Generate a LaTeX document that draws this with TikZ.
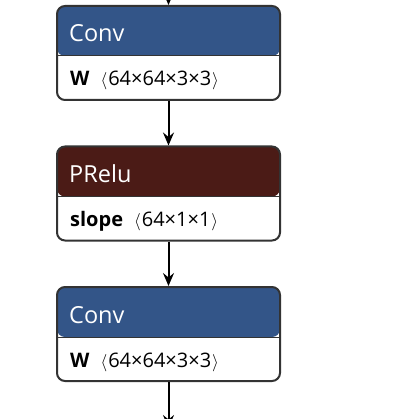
\documentclass[tikz,border=0pt]{standalone}
\usepackage{fontspec}
\setmainfont{Open Sans}
\usetikzlibrary{arrows.meta, positioning}

\definecolor{convblue}{RGB}{51,85,136}
\definecolor{actred}{RGB}{75,27,22}
\definecolor{boxline}{RGB}{51,51,51}

\newcommand{\shp}[1]{{\fontsize{16}{16}\selectfont$\langle$}\kern1pt#1\kern1pt{\fontsize{16}{16}\selectfont$\rangle$}}

\tikzset{
  layer/.style={draw=boxline, line width=2pt, rounded corners=8pt, fill=white,
    minimum width=223pt, minimum height=94pt, inner sep=0pt,
    path picture={
      \fill[#1] (path picture bounding box.north west) rectangle ([yshift=-50pt]path picture bounding box.north east);
      \draw[boxline, line width=1pt] ([yshift=-50pt]path picture bounding box.north west) -- ([yshift=-50pt]path picture bounding box.north east);
    }},
  title/.style={anchor=base west, text=white, font=\fontsize{23.5}{28}\selectfont, inner sep=0pt},
  attr/.style={anchor=base west, font=\fontsize{20}{24}\selectfont, inner sep=0pt},
  flow/.style={-{Stealth[length=13pt, width=11pt, inset=4.5pt]}, line width=2pt}
}

\begin{document}
\begin{tikzpicture}[x=1pt, y=1pt]
    \clip (0,0) rectangle (409,-419);

    % layers
    \node[layer=convblue] (conv1) at (168.5,-53) {};
    \node[layer=actred, below=44.5pt of conv1] (prelu) {};
    \node[layer=convblue, below=44.5pt of prelu] (conv2) {};

    % titles and attributes
    \node[title] (conv1t) at ([xshift=13pt, yshift=-37pt]conv1.north west) {Conv};
    \node[attr] (conv1a) at ([xshift=14pt, yshift=-81pt]conv1.north west) {\textbf{W}\hspace{0.55em}\shp{64×64×3×3}};
    \node[title] (prelut) at ([xshift=13pt, yshift=-37pt]prelu.north west) {PRelu};
    \node[attr] (prelua) at ([xshift=14pt, yshift=-81pt]prelu.north west) {\textbf{slope}\hspace{0.55em}\shp{64×1×1}};
    \node[title] (conv2t) at ([xshift=13pt, yshift=-37pt]conv2.north west) {Conv};
    \node[attr] (conv2a) at ([xshift=14pt, yshift=-81pt]conv2.north west) {\textbf{W}\hspace{0.55em}\shp{64×64×3×3}};

    % connectors
    \coordinate (in) at (168.5,10);
    \coordinate (out) at (168.5,-428);
    \draw[flow] (in) -- (conv1);
    \draw[flow] (conv1) -- (prelu);
    \draw[flow] (prelu) -- (conv2);
    \draw[flow] (conv2) -- (out);
\end{tikzpicture}
\end{document}
